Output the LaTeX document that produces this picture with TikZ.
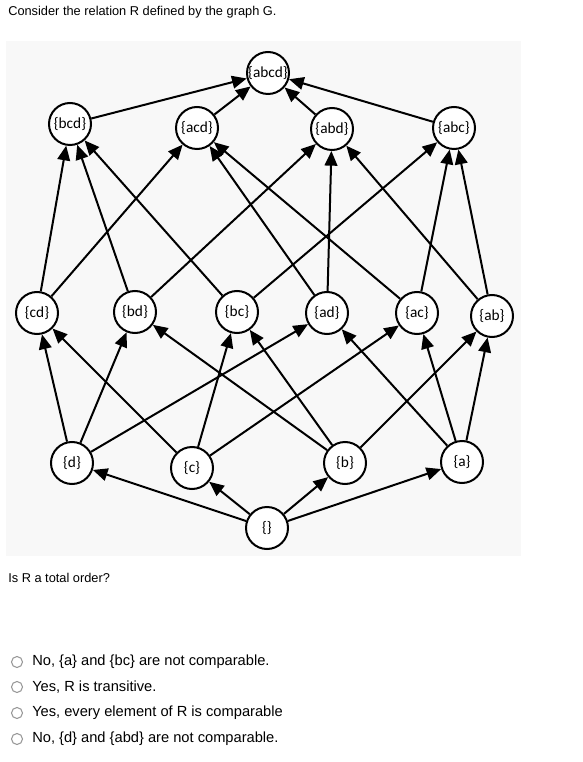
\documentclass[tikz,border=0pt]{standalone}
\usepackage{fontspec}
\setmainfont{Liberation Sans}
\newfontfamily\setlabelfont{Carlito}
\usetikzlibrary{arrows.meta}

\tikzset{
  setnode/.style={circle,draw,fill=white,line width=1.5pt,minimum size=31.5pt,inner sep=0pt,font=\setlabelfont\fontsize{11.5}{12}\selectfont},
  cover/.style={line width=1.5pt,-{Triangle[length=11pt,width=9.5pt]}},
  radio/.style={draw=gray!80,line width=0.8pt,fill=white},
  qtext/.style={anchor=west,inner sep=0.75pt,font=\fontsize{11}{12}\selectfont}
}

\begin{document}
\begin{tikzpicture}[x=0.75pt,y=0.75pt,yscale=-1,xscale=1]
%set diagram left start at 0, and has height of 762
\path[use as bounding box,fill=white] (0,0) rectangle (582,762);

% Text Node
\draw (7,12) node [anchor=west][inner sep=0.75pt,font=\fontsize{9.6}{12}\selectfont]   (title) {Consider the relation R defined by the graph G.};

%Shape: Rectangle [background of the graph]
\fill [color={rgb, 255:red, 248; green, 248; blue, 248 }] (6,41) rectangle (521,556);

%Nodes: top level
\node [setnode] (abcd) at (268,73) {\{abcd\}};
\node [setnode] (bcd) at (70,124) {\{bcd\}};
\node [setnode] (acd) at (197,128) {\{acd\}};
\node [setnode] (abd) at (332,129) {\{abd\}};
\node [setnode] (abc) at (454,128) {\{abc\}};
%Nodes: pairs
\node [setnode] (cd) at (37,313) {\{cd\}};
\node [setnode] (bd) at (135,312) {\{bd\}};
\node [setnode] (bc) at (237,312) {\{bc\}};
\node [setnode] (ad) at (327,313) {\{ad\}};
\node [setnode] (ac) at (417,313) {\{ac\}};
\node [setnode] (ab) at (492,316) {\{ab\}};
%Nodes: singletons and empty set
\node [setnode] (d) at (72,463) {\{d\}};
\node [setnode] (c) at (192,468) {\{c\}};
\node [setnode] (b) at (345,463) {\{b\}};
\node [setnode] (a) at (462,462) {\{a\}};
\node [setnode] (empty) at (267,528) {\{\}};

%Connectors from the empty set
\foreach \s in {d,c,b,a} \draw [cover] (empty) -- (\s);
%Connectors from the singletons
\foreach \s/\t in {d/cd,d/bd,d/ad,c/cd,c/bc,c/ac,b/bd,b/bc,b/ab,a/ad,a/ac,a/ab}
  \draw [cover] (\s) -- (\t);
%Connectors from the pairs
\foreach \s/\t in {cd/bcd,cd/acd,bd/bcd,bd/abd,bc/bcd,bc/abc,ad/acd,ad/abd,ac/acd,ac/abc,ab/abd,ab/abc}
  \draw [cover] (\s) -- (\t);
%Connectors to the full set
\foreach \s in {bcd,acd,abd,abc} \draw [cover] (\s) -- (abcd);

% Text Node
\draw (7,578) node [anchor=west][inner sep=0.75pt,font=\fontsize{9.6}{12}\selectfont]   (question) {Is R a total order?};

%Options
\draw [radio] (17,662) circle (5.5);
\draw (31,662) node [qtext] (opta) {No, \{a\} and \{bc\} are not comparable.};
\draw [radio] (17,687) circle (5.5);
\draw (31,687) node [qtext] (optb) {Yes, R is transitive.};
\draw [radio] (17,713) circle (5.5);
\draw (31,713) node [qtext] (optc) {Yes, every element of R is comparable};
\draw [radio] (17,739) circle (5.5);
\draw (31,739) node [qtext] (optd) {No, \{d\} and \{abd\} are not comparable.};

\end{tikzpicture}
\end{document}
